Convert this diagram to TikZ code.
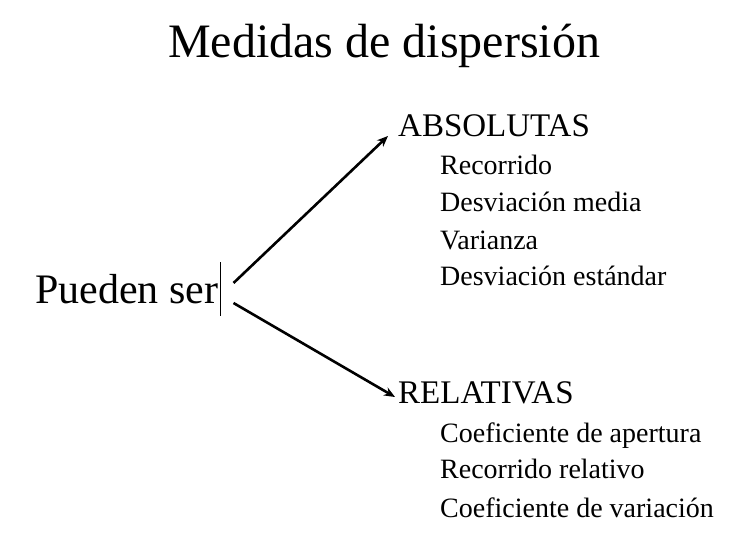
\documentclass[tikz,border=0pt]{standalone}
\usepackage{fontspec}
\setmainfont{LiberationSerif}[Extension=.ttf, UprightFont=*-Regular]
\usetikzlibrary{arrows.meta}
\tikzset{
  titulo/.style={anchor=base west, inner sep=0pt, font=\fontsize{48}{50}\selectfont},
  raiz/.style={anchor=base west, inner sep=0pt, font=\fontsize{42}{44}\selectfont},
  grupo/.style={anchor=base west, inner sep=0pt, font=\fontsize{33}{35}\selectfont},
  item/.style={anchor=base west, inner sep=0pt, font=\fontsize{28}{30}\selectfont},
  flecha/.style={line width=2.6pt, -{Stealth[length=11pt,width=9pt]}}
}
\begin{document}
\begin{tikzpicture}[x=1pt,y=-1pt]
\useasboundingbox (0,0) rectangle (752,551);
% titulo
\node[titulo] (tit) at (168,58) {Medidas de dispersión};
% raiz
\node[raiz] (pueden) at (35,303) {Pueden ser};
\draw[line width=0.8pt] (220,262) -- (220,316);
% absolutas
\node[grupo] (abs) at (398,136) {ABSOLUTAS};
\node[item] (rec) at (440,174) {Recorrido};
\node[item] (dmed) at (440,211) {Desviación media};
\node[item] (var) at (440,249) {Varianza};
\node[item] (dest) at (440,285) {Desviación estándar};
% relativas
\node[grupo] (rel) at (398,403) {RELATIVAS};
\node[item] (cap) at (440,442) {Coeficiente de apertura};
\node[item] (rrel) at (440,478) {Recorrido relativo};
\node[item] (cvar) at (440,517) {Coeficiente de variación};
% flechas
\draw[flecha] ([shift={(15,-20)}]pueden.base east) -- ([shift={(-10,0)}]abs.base west);
\draw[flecha] ([shift={(15,0)}]pueden.base east) -- ([shift={(-3,-6)}]rel.base west);
\end{tikzpicture}
\end{document}
